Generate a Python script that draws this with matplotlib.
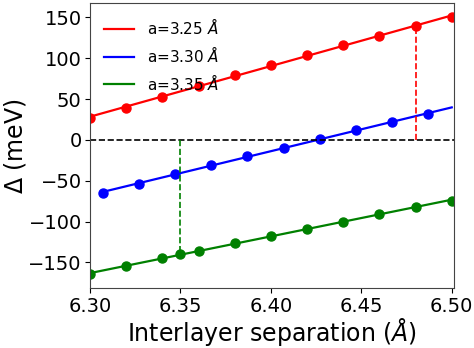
import numpy as np
import matplotlib
matplotlib.use("Agg")
import matplotlib.pyplot as plt

# Data
x_red = [6.30, 6.32, 6.34, 6.36, 6.38, 6.40, 6.42, 6.44, 6.46, 6.48, 6.50]
y_red = [27, 39.5, 53, 66, 79.5, 92, 104, 116, 127.5, 139, 150.5]

x_blue = [6.307, 6.327, 6.347, 6.367, 6.387, 6.407, 6.427, 6.447, 6.467, 6.487]
y_blue = [-65, -53.7, -41.5, -31.3, -20, -9.4, 1.2, 11.7, 22, 31.2]

x_green = [6.30, 6.32, 6.34, 6.35, 6.36, 6.38, 6.40, 6.42, 6.44, 6.46, 6.48, 6.50]
y_green = [-164.6, -154.9, -144.4, -140.3, -135.8, -126.5, -117.5, -109, -100, -90.7, -82.2, -74.9]

labels = [r"a=3.25 $\AA$", r"a=3.30 $\AA$", r"a=3.35 $\AA$"]
colors = ["red", "blue", "green"]
x_end = 6.50

# vertical markers: (series index, x position)
vlines = [(0, 6.48), (2, 6.35)]

fig = plt.figure(figsize=(4.74, 3.48), dpi=100)
ax = fig.add_axes([0.19, 0.171, 0.768, 0.819])

series = [(x_red, y_red), (x_blue, y_blue), (x_green, y_green)]
for (xs, ys), lab, c in zip(series, labels, colors):
    xs = np.array(xs); ys = np.array(ys)
    p = np.polyfit(xs, ys, 1)
    xf = np.linspace(xs.min(), x_end, 50)
    ax.plot(xf, np.polyval(p, xf), color=c, lw=1.6, label=lab)
    ax.plot(xs, ys, 'o', color=c, ms=6.5)

ax.axhline(0, color="black", ls="--", lw=1.2)

for idx, xv in vlines:
    xs, ys = series[idx]
    yv = ys[xs.index(xv)]
    ax.plot([xv, xv], [0, yv], color=colors[idx], ls="--", lw=1.2)

ax.set_xlim(6.30, 6.5013)
ax.set_ylim(-182, 167)
ax.set_xticks([6.30, 6.35, 6.40, 6.45, 6.50])
ax.set_xticklabels(["6.30", "6.35", "6.40", "6.45", "6.50"])
ax.set_yticks([-150, -100, -50, 0, 50, 100, 150])
ax.tick_params(labelsize=14, pad=2.5)
ax.set_xlabel(r"Interlayer separation ($\AA$)", fontsize=17, labelpad=0)
ax.set_ylabel(r"$\Delta$ (meV)", fontsize=17, labelpad=0)
for s in ax.spines.values():
    s.set_color("#444444")
ax.legend(loc="upper left", fontsize=11, frameon=False)

fig.savefig("out.png", dpi=100)
